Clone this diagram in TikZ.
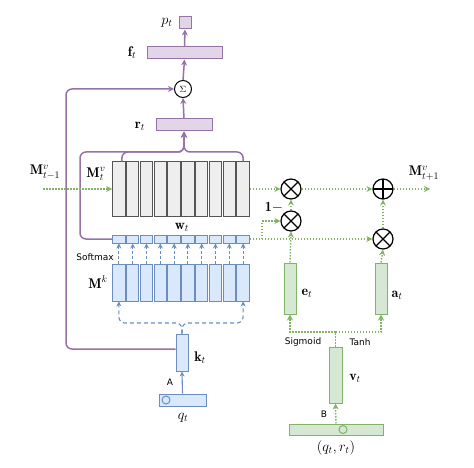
\documentclass[tikz,border=0pt]{standalone}
\usepackage{fontspec}
\newfontfamily\labfont{DejaVu Sans}
\usetikzlibrary{arrows.meta,calc}
\definecolor{pline}{HTML}{9673A6}
\definecolor{pfill}{HTML}{E1D5E7}
\definecolor{bline}{HTML}{6C8EBF}
\definecolor{bfill}{HTML}{DAE8FC}
\definecolor{gline}{HTML}{82B366}
\definecolor{gfill}{HTML}{D5E8D4}
\definecolor{kline}{HTML}{555555}
\definecolor{kfill}{HTML}{EEEEEE}
\tikzset{
  box/.style={draw, line width=1pt, inner sep=0pt, minimum width=#1},
  pbox/.style={box=#1, draw=pline, fill=pfill},
  bbox/.style={box=#1, draw=bline, fill=bfill},
  gbox/.style={box=#1, draw=gline, fill=gfill},
  mvcol/.style={draw=kline, fill=kfill, line width=1pt, inner sep=0pt, minimum width=12.4, minimum height=54},
  wbox/.style={draw=bline, fill=bfill, line width=0.9pt, inner sep=0pt, minimum width=12.4, minimum height=8},
  mkcol/.style={draw=bline, fill=bfill, line width=0.9pt, inner sep=0pt, minimum width=12.4, minimum height=37},
  parrow/.style={draw=pline, line width=1.5pt, -{Stealth[length=6,width=6]}},
  barrow/.style={draw=bline, line width=1.1pt, -{Stealth[length=5,width=5]}},
  bdash/.style={draw=bline, line width=1.1pt, dash pattern=on 4pt off 3pt},
  garrow/.style={draw=gline, line width=1.4pt, dash pattern=on 1.5pt off 1.5pt, -{Stealth[length=6,width=6]}},
  gdot/.style={draw=gline, line width=1.4pt, dash pattern=on 1.5pt off 1.5pt},
  opcirc/.style={circle, draw=black, fill=white, line width=1.2pt, minimum size=20, inner sep=0pt},
  otimes/.style={opcirc, path picture={\draw[line width=1.2pt] (path picture bounding box.north west)--(path picture bounding box.south east) (path picture bounding box.south west)--(path picture bounding box.north east);}},
  oplus/.style={opcirc, path picture={\draw[line width=1.2pt] (path picture bounding box.north)--(path picture bounding box.south) (path picture bounding box.west)--(path picture bounding box.east);}},
  lab/.style={font=\labfont\fontsize{9}{10}\selectfont, inner sep=0pt},
  mlab/.style={font=\fontsize{14}{16}\selectfont, inner sep=0pt}
}
\begin{document}
\begin{tikzpicture}[x=1pt,y=-1pt]
\useasboundingbox[fill=white] (0,0) rectangle (474,468);

% purple top part
\node[pbox=12, minimum height=12] (pt) at (185,23) {};
\node[pbox=75, minimum height=12] (ft) at (184.5,53) {};
\node[circle, draw=black, fill=white, line width=1pt, minimum size=17, inner sep=0pt, font=\small] (sum) at (183,89) {$\Sigma$};
\node[pbox=56, minimum height=12] (rt) at (184,125) {};

% memory columns
\foreach \i in {1,...,10} {
  \pgfmathsetmacro\cx{112+13.8*(\i-1)+6.9}
  \node[mvcol] (mv\i) at (\cx,189) {};
  \node[wbox] (w\i) at (\cx,239) {};
  \node[mkcol] (mk\i) at (\cx,282.5) {};
  \draw[barrow, dash pattern=on 3pt off 2pt] (mk\i.north) -- (w\i.south);
}

% blue bottom
\node[bbox=12, minimum height=37] (kt) at (182,352.5) {};
\node[bbox=47, minimum height=12] (qt) at (182.5,400) {};
\node[circle, draw=bline, fill=bfill, line width=1pt, minimum size=8, inner sep=0pt] (qc) at (166,400) {};

% green parts
\node[otimes] (ot1) at (291,189) {};
\node[otimes] (ot2) at (291,221) {};
\node[oplus] (op) at (383,189) {};
\node[otimes] (ot3) at (383,239) {};
\node[gbox=12, minimum height=51] (et) at (290,288.5) {};
\node[gbox=12, minimum height=51] (at) at (381,288.5) {};
\node[gbox=13, minimum height=56] (vt) at (335.5,375) {};
\node[gbox=94, minimum height=11] (qrt) at (336,429.5) {};
\node[circle, draw=gline, fill=gfill, line width=1pt, minimum size=8, inner sep=0pt] (qrc) at (343,429.5) {};

% coordinates
\coordinate (lp1) at (66,349);
\coordinate (lp2) at (66,89);
\coordinate (cw) at (80,152);
\coordinate (cj) at (184,152);
\coordinate (kj) at (182,323);
\coordinate (min) at (43,189);
\coordinate (mout) at (430,189);
\coordinate (bp) at (262,239);
\coordinate (vj) at (335.5,332);

% purple connectors
\draw[parrow] (rt.north) -- (sum.south);
\draw[parrow] (sum.north) -- (ft.south);
\draw[parrow] (ft.north) -- (pt.south);
\draw[parrow, rounded corners=6] (kt.west |- lp1) -- (lp1) -- (lp2) -- (sum.west);
\draw[parrow, rounded corners=6] (w1.west) -| (cw) -- (cj) -- (rt.south);
\draw[parrow, rounded corners=6] ([xshift=3]mv1.north) |- (cj) -- (rt.south);
\draw[parrow, rounded corners=6] (mv10.north) |- (cj) -- (rt.south);

% blue connectors
\draw[barrow] (qt.north) -- (kt.south);
\draw[bdash, rounded corners=6, -{Stealth[length=5,width=5]}] (kt.north) -- (kj) -| (mk1.south);
\draw[bdash, rounded corners=6, -{Stealth[length=5,width=5]}] (kt.north) -- (kj) -| (mk10.south);

% green connectors
\draw[garrow] (min) -- (mv1.west);
\draw[garrow] (mv10.east) -- (ot1.west);
\draw[garrow] (ot1.east) -- (op.west);
\draw[garrow] (op.east) -- (mout);
\draw[garrow] (ot2.north) -- (ot1.south);
\draw[garrow] (w10.east) -- (ot3.west);
\draw[garrow] (bp) |- (ot2.west);
\draw[garrow] (et.north) -- (ot2.south);
\draw[garrow] (at.north) -- (ot3.south);
\draw[garrow] (ot3.north) -- (op.south);
\draw[gdot] (vt.north) -- (vj);
\draw[garrow] (vj) -| (et.south);
\draw[garrow] (vj) -| (at.south);
\draw[garrow] (qrt.north) -- (vt.south);

% labels
\node[mlab] (lpt) at (167,23) {$p_t$};
\node[mlab] (lft) at (132,53) {$\mathbf{f}_t$};
\node[mlab] (lrt) at (140,126) {$\mathbf{r}_t$};
\node[mlab] (lmprev) at (45,172) {$\mathbf{M}^v_{t-1}$};
\node[mlab] (lmt) at (96,174) {$\mathbf{M}^v_t$};
\node[mlab] (lwt) at (182,227) {$\mathbf{w}_t$};
\node[lab] (lsoft) at (95,257) {Softmax};
\node[mlab] (lmk) at (98,282) {$\mathbf{M}^k$};
\node[mlab] (lkt) at (200,358) {$\mathbf{k}_t$};
\node[lab] (lA) at (170,382) {A};
\node[mlab] (lqt) at (183,418) {$q_t$};
\node[mlab] (lone) at (274,208) {$\mathbf{1}-$};
\node[mlab] (lmnext) at (424,173) {$\mathbf{M}^v_{t+1}$};
\node[mlab] (let) at (307,293) {$\mathbf{e}_t$};
\node[mlab] (lat) at (397,295) {$\mathbf{a}_t$};
\node[lab] (lsig) at (303,342) {Sigmoid};
\node[lab] (ltanh) at (360,342) {Tanh};
\node[mlab] (lvt) at (355,378) {$\mathbf{v}_t$};
\node[lab] (lB) at (324,414) {B};
\node[mlab] (lqr) at (336,448) {$(q_t,r_t)$};
\end{tikzpicture}
\end{document}
